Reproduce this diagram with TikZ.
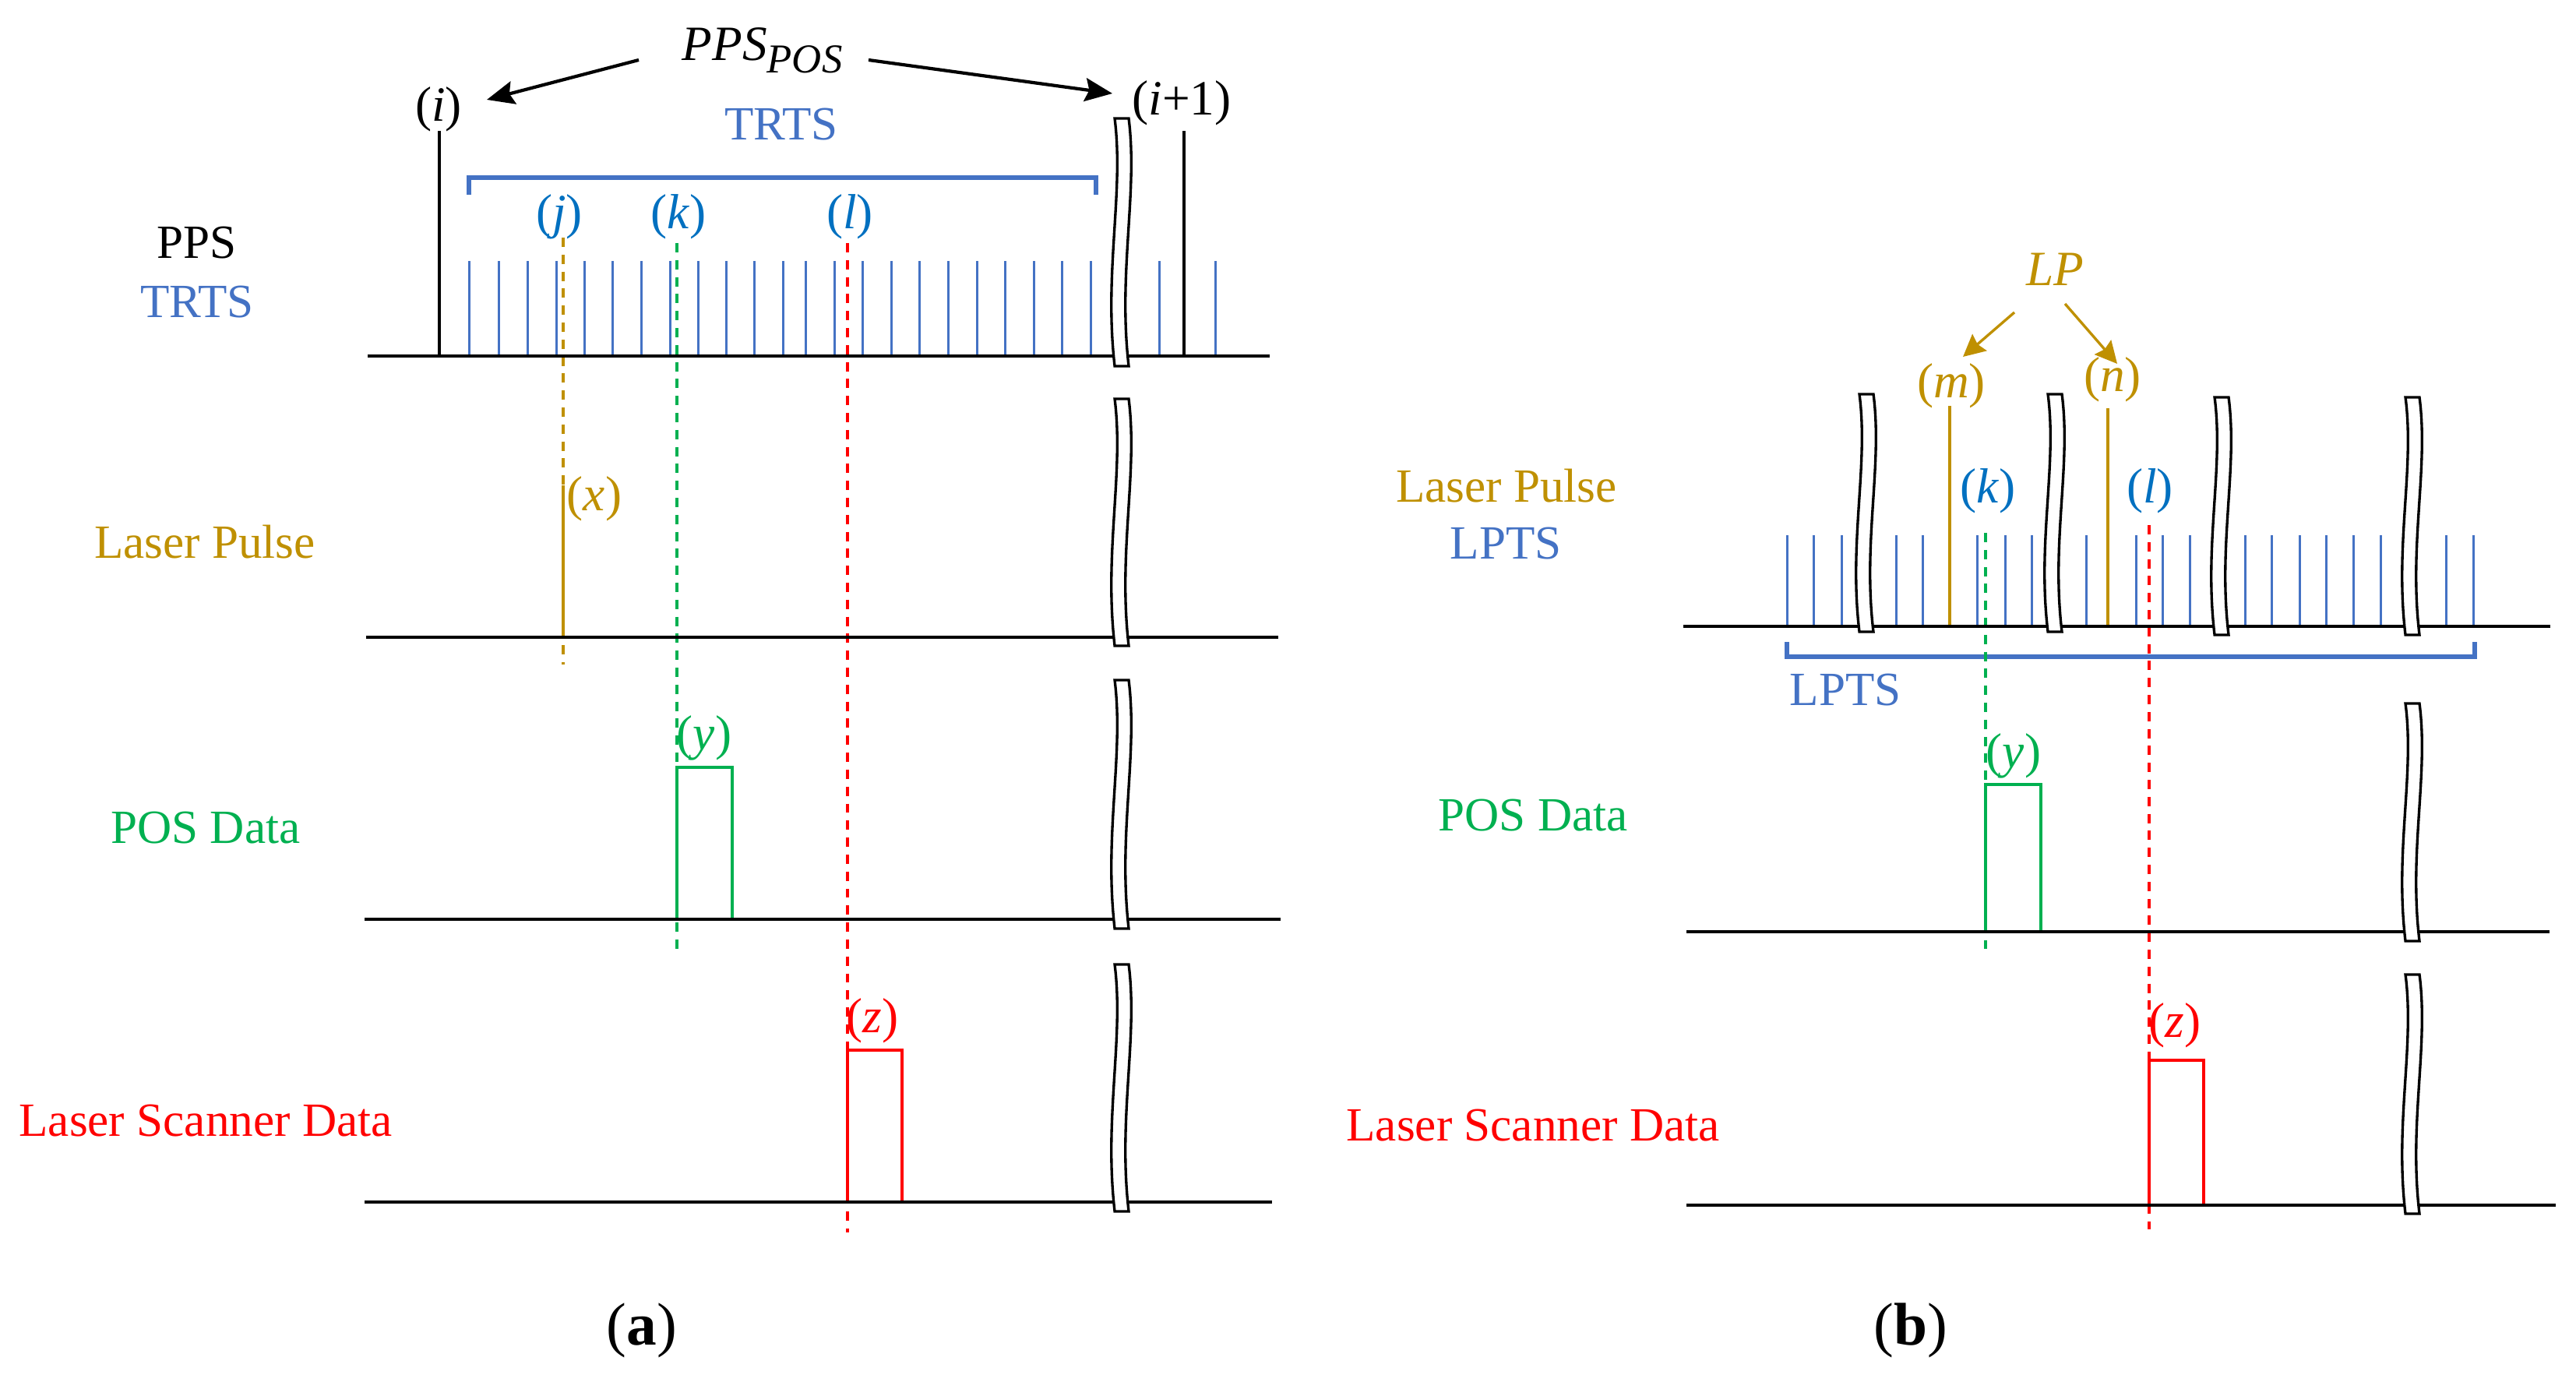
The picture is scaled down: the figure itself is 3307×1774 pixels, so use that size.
\documentclass[tikz,border=0pt]{standalone}
\usepackage{fontspec}
\setmainfont{Liberation Serif}
\usetikzlibrary{arrows.meta}
\definecolor{tsblue}{HTML}{4472C4}
\definecolor{lblblue}{HTML}{0070C0}
\definecolor{lpgold}{HTML}{BF9000}
\definecolor{posgreen}{HTML}{00B050}
\definecolor{scanred}{HTML}{FF0000}
% break symbol: centre x, top y, bottom y (y grows downward)
\newcommand{\brkband}[3]{%
  \filldraw[brkstyle] ({#1-9},#2)
    .. controls ({#1+3},{#2+0.3*(#3-#2)}) and ({#1-23},{#2+0.62*(#3-#2)}) .. ({#1-9},#3)
    -- ({#1+9},#3)
    .. controls ({#1-5},{#2+0.62*(#3-#2)}) and ({#1+21},{#2+0.3*(#3-#2)}) .. ({#1+9},#2)
    -- cycle;}
\begin{document}
\begin{tikzpicture}[x=0.01cm,y=-0.01cm,
  axis/.style={line width=1.0pt,black},
  tick/.style={line width=0.85pt,tsblue},
  ppstick/.style={line width=0.95pt,black},
  dsh/.style={line width=0.95pt,dash pattern=on 3.4pt off 2.8pt},
  pulse/.style={line width=0.95pt},
  bracket/.style={line width=1.7pt,tsblue,line join=miter},
  brkstyle/.style={line width=0.95pt,draw=black,fill=white},
  lbl/.style={inner sep=0pt,anchor=base,font=\fontsize{17.4}{20}\selectfont},
  plbl/.style={inner sep=0pt,anchor=center,font=\fontsize{18}{20}\selectfont},
  captxt/.style={inner sep=0pt,anchor=center,font=\fontsize{22}{24}\selectfont},
  bigarr/.style={line width=1.2pt,-{Stealth[length=10pt,width=8.5pt,inset=1.5pt]}},
  goldarr/.style={line width=0.95pt,lpgold,-{Stealth[length=8pt,width=8pt,inset=1pt]}}
]
\useasboundingbox (0,0) rectangle (3307,1774);

% ================= (a) =================
% PPS ticks
\draw[ppstick] (564,168) -- (564,457);
\draw[ppstick] (1520,168) -- (1520,457);
% TRTS ticks
\foreach \x in {602,640,677,714,750,786,823,860,896,932,968,1005,1034,1071,1107,1144,1180,1217,1254,1290,1327,1363,1400,1488,1560}
  \draw[tick] (\x,335) -- (\x,457);
% TRTS bracket
\draw[bracket] (602,250) -- (602,228) -- (1407,228) -- (1407,250);
% dashed markers
\draw[dsh,lpgold] (723,305) -- (723,853);
\draw[dsh,posgreen] (869,312) -- (869,1219);
\draw[dsh,scanred] (1088,312) -- (1088,1582);
% laser pulse
\draw[pulse,lpgold] (723,623) -- (723,818);
% POS pulse
\draw[pulse,posgreen] (869,1180) -- (869,985) -- (940,985) -- (940,1180);
% scanner pulse
\draw[pulse,scanred] (1088,1543) -- (1088,1348) -- (1158,1348) -- (1158,1543);
% axes
\draw[axis] (472,457) -- (1630,457);
\draw[axis] (470,818) -- (1641,818);
\draw[axis] (468,1180) -- (1644,1180);
\draw[axis] (468,1543) -- (1633,1543);
% breaks
\brkband{1440}{152}{470}
\brkband{1440}{512}{829}
\brkband{1440}{873}{1192}
\brkband{1440}{1238}{1555}

% labels (a)
\node[lbl] (ppsA) at (253,332) {PPS};
\node[lbl,text=tsblue] (trtsA) at (253,408) {TRTS};
\node[lbl,text=lpgold] (lpA) at (263,717) {Laser Pulse};
\node[lbl,text=posgreen] (posA) at (264,1082) {POS Data};
\node[lbl,text=scanred] (scanA) at (264,1458) {Laser Scanner Data};
\node[lbl,text=tsblue] (trtsTop) at (1003,180) {TRTS};
\node[inner sep=0pt,anchor=base west,font=\fontsize{18}{20}\selectfont] (ppspos) at (875,78)
  {\textit{PPS}\raisebox{-4.3pt}{\fontsize{15}{15}\selectfont\textit{POS}}};
\node[plbl] (li) at (563,140) {(\textit{i})};
\node[plbl] (lii) at (1517,132) {(\textit{i}+1)};
\node[plbl,text=lblblue] (lj) at (718,278) {(\textit{j})};
\node[plbl,text=lblblue] (lk) at (871,278) {(\textit{k})};
\node[plbl,text=lblblue] (ll) at (1091,278) {(\textit{l})};
\node[plbl,text=lpgold] (lx) at (763,640) {(\textit{x})};
\node[plbl,text=posgreen] (ly) at (904,947) {(\textit{y})};
\node[plbl,text=scanred] (lz) at (1120,1310) {(\textit{z})};
\node[captxt] (capA) at (824,1708) {(\textbf{a})};
% arrows from PPS_POS
\coordinate (aLs) at (820,77);
\coordinate (aLe) at (625,128);
\coordinate (aRs) at (1115,77);
\coordinate (aRe) at (1428,120);
\draw[bigarr] (aLs) -- (aLe);
\draw[bigarr] (aRs) -- (aRe);

% ================= (b) =================
\foreach \x in {2294,2328,2364,2434,2468,2538,2574,2608,2678,2742,2776,2811,2882,2916,2952,2986,3021,3056,3140,3175}
  \draw[tick] (\x,687) -- (\x,804);
% LP lines
\draw[pulse,lpgold] (2503,521) -- (2503,804);
\draw[pulse,lpgold] (2706,524) -- (2706,804);
% LPTS bracket
\draw[bracket] (2294,824) -- (2294,843) -- (3177,843) -- (3177,824);
% dashed markers
\draw[dsh,posgreen] (2549,684) -- (2549,1218);
\draw[dsh,scanred] (2759,674) -- (2759,1578);
% pulses
\draw[pulse,posgreen] (2549,1196) -- (2549,1007) -- (2620,1007) -- (2620,1196);
\draw[pulse,scanred] (2759,1547) -- (2759,1361) -- (2829,1361) -- (2829,1547);
% axes
\draw[axis] (2161,804) -- (3274,804);
\draw[axis] (2165,1196) -- (3273,1196);
\draw[axis] (2165,1547) -- (3281,1547);
% breaks
\brkband{2396}{506}{811}
\brkband{2638}{506}{811}
\brkband{2852}{510}{815}
\brkband{3097}{510}{815}
\brkband{3097}{903}{1208}
\brkband{3097}{1251}{1558}

% labels (b)
\node[lbl,text=lpgold] (lpB) at (1934,645) {Laser Pulse};
\node[lbl,text=tsblue] (lptsB) at (1933,718) {LPTS};
\node[lbl,text=posgreen] (posB) at (1968,1067) {POS Data};
\node[lbl,text=scanred] (scanB) at (1968,1464) {Laser Scanner Data};
\node[lbl,text=tsblue] (lptsBr) at (2369,906) {LPTS};
\node[lbl,text=lpgold,font=\fontsize{18}{20}\selectfont\itshape] (lpTop) at (2638,367) {LP};
\node[plbl,text=lpgold] (lm) at (2505,495) {(\textit{m})};
\node[plbl,text=lpgold] (ln) at (2712,487) {(\textit{n})};
\node[plbl,text=lblblue] (lkB) at (2552,630) {(\textit{k})};
\node[plbl,text=lblblue] (llB) at (2760,630) {(\textit{l})};
\node[plbl,text=posgreen] (lyB) at (2585,970) {(\textit{y})};
\node[plbl,text=scanred] (lzB) at (2792,1316) {(\textit{z})};
\node[captxt] (capB) at (2453,1708) {(\textbf{b})};
% arrows from LP
\coordinate (bLs) at (2586,401);
\coordinate (bLe) at (2520,458);
\coordinate (bRs) at (2651,390);
\coordinate (bRe) at (2718,467);
\draw[goldarr] (bLs) -- (bLe);
\draw[goldarr] (bRs) -- (bRe);
\end{tikzpicture}
\end{document}
